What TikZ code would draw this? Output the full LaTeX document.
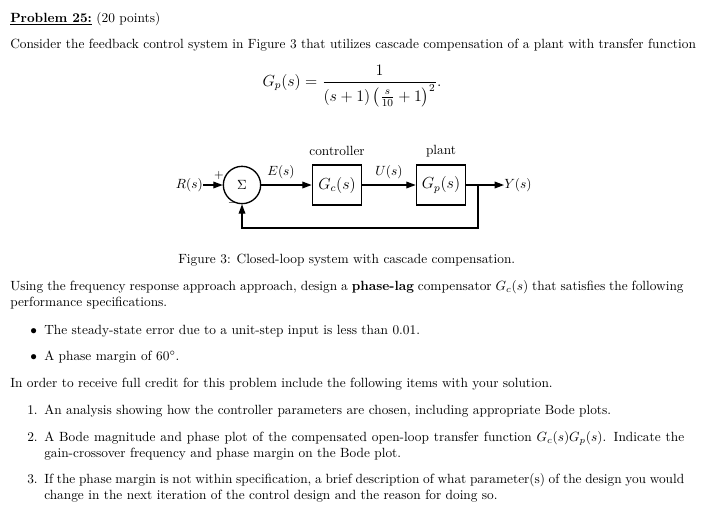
\documentclass[tikz,border=0pt]{standalone}
\usepackage{amsmath}
\usetikzlibrary{arrows.meta}
\begin{document}
\begin{tikzpicture}[x=0.75pt,y=-0.75pt,
  txt/.style={anchor=base west,inner sep=0pt,font=\normalsize},
  para/.style={anchor=north west,inner sep=0pt,text width=505pt,align=justify},
  blk/.style={draw,line width=1pt,minimum width=37pt,minimum height=30pt,inner sep=0pt,font=\large},
  sig/.style={line width=0.9pt,-{Triangle[length=7pt,width=5pt]}},
  lbl/.style={inner sep=0pt,font=\normalsize}]
\useasboundingbox (0,0) rectangle (702,525);
\node[txt] (t1) at (10,22) {\textbf{\underline{Problem 25:}} (20 points)};
\node[txt] (t2) at (10,48) {Consider the feedback control system in Figure 3 that utilizes cascade compensation of a plant with transfer function};
\node[font=\large] (eq) at (352,86) {$\displaystyle G_p(s)=\frac{1}{(s+1)\left(\frac{s}{10}+1\right)^{2}}.$};
% diagram
\node[lbl,anchor=east] (R) at (203,185) {$R(s)$};
\node[draw,circle,line width=1pt,minimum size=28pt,inner sep=0pt] (sum) at (242,185) {$\Sigma$};
\node[blk] (C) at (337,185) {$G_c(s)$};
\node[blk] (P) at (441,185) {$G_p(s)$};
\node[lbl,anchor=west] (Y) at (504,185) {$Y(s)$};
\node[lbl] (cl) at (337,151) {controller};
\node[lbl] (pl) at (441,151) {plant};
\node[lbl] (E) at (281,172) {$E(s)$};
\node[lbl] (U) at (389,172) {$U(s)$};
\node[lbl,font=\small] (plus) at (219,175) {$+$};
\node[lbl] (minus) at (233,203) {$-$};
\coordinate (br) at (478,185);
\coordinate (fb) at (478,228);
\coordinate (fb2) at (242,228);
\draw[sig] (R) -- (sum);
\draw[sig] (sum) -- (C);
\draw[sig] (C) -- (P);
\draw[sig] (P) -- (Y);
\draw[sig] (br) -- (fb) -- (fb2) -- (sum);
\node[txt] (cap) at (178,263) {Figure 3: Closed-loop system with cascade compensation.};
\node[para] (p1) at (10,280) {Using the frequency response approach approach, design a \textbf{phase-lag} compensator $G_c(s)$ that satisfies the following\linebreak performance specifications.};
\node[txt] (b1) at (30,334) {$\bullet$};
\node[txt] (b1t) at (44,334) {The steady-state error due to a unit-step input is less than 0.01.};
\node[txt] (b2) at (30,360) {$\bullet$};
\node[txt] (b2t) at (44,360) {A phase margin of $60^\circ$.};
\node[txt] (p2) at (10,387) {In order to receive full credit for this problem include the following items with your solution.};
\node[txt] (n1) at (27,414) {1.};
\node[txt] (n1t) at (44,414) {An analysis showing how the controller parameters are chosen, including appropriate Bode plots.};
\node[txt] (n2) at (27,441) {2.};
\node[para,text width=480pt] (n2t) at (44,431) {A Bode magnitude and phase plot of the compensated open-loop transfer function $G_c(s)G_p(s)$. Indicate the\linebreak gain-crossover frequency and phase margin on the Bode plot.};
\node[txt] (n3) at (27,483) {3.};
\node[para,text width=480pt] (n3t) at (44,473) {If the phase margin is not within specification, a brief description of what parameter(s) of the design you would\linebreak change in the next iteration of the control design and the reason for doing so.};
\end{tikzpicture}
\end{document}
